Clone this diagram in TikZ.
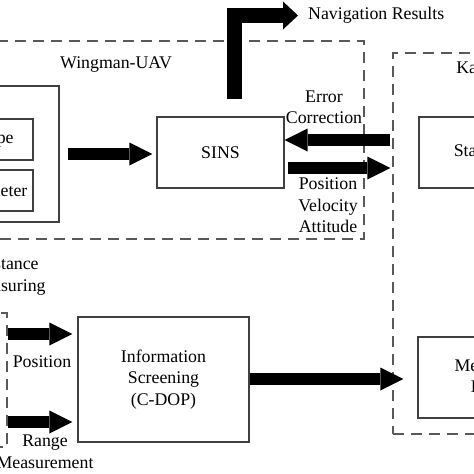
\documentclass[tikz,border=0pt]{standalone}
\usepackage{fontspec}
\setmainfont{Liberation Serif}
\usetikzlibrary{arrows.meta}
\begin{document}
\begin{tikzpicture}[x=1pt,y=-1pt,
  every node/.style={font=\fontsize{17.8}{21.5}\selectfont, text=black},
  box/.style={draw=black!75, line width=1.2pt, inner sep=0pt, align=center},
  dbox/.style={draw=black!65, line width=1.4pt, dash pattern=on 11pt off 7pt, inner sep=0pt},
  lbl/.style={align=center, inner sep=0pt},
  bigarrow/.style={line width=12pt, -{Triangle[length=23pt,width=23pt,line width=0pt]}},
  navarrow/.style={line width=15pt, line join=miter, -{Triangle[length=15pt,width=28pt,line width=0pt]}}]
\fill[white] (0,0) rectangle (474,474);
\useasboundingbox (0,0) rectangle (474,474);
\clip (0,0) rectangle (474,474);

% dashed containers
\node[dbox, minimum width=400pt, minimum height=198pt] (wing) at (164,140) {};
\node[dbox, minimum width=226pt, minimum height=381pt] (kal) at (506,243.5) {};
\node[dbox, minimum width=87pt, minimum height=134pt] (dist) at (-36.5,380) {};

% labels of containers
\node[lbl] (winglbl) at (116,65) {Wingman-UAV};
\node[lbl] (kallbl) at (506,67) {Kalman Filter};
\node[lbl] (distlbl) at (7.5,276.5) {Distance\\Measuring};

% boxes
\node[box, minimum width=154pt, minimum height=136pt] (sens) at (-18,154) {};
\node[box, minimum width=116pt, minimum height=41pt] (gyro) at (-25,139.5) {Gyroscope};
\node[box, minimum width=116pt, minimum height=41pt] (acc) at (-25,190.5) {Accelerometer};
\node[box, minimum width=127pt, minimum height=71pt] (sins) at (220.5,152.5) {SINS};
\node[box, minimum width=174pt, minimum height=71pt] (state) at (506,152.5) {State Equation};
\node[box, minimum width=176pt, minimum height=81pt] (meas) at (506,377.5) {};
\node[lbl] (measlbl) at (503,378) {Measurement\\Equation};
\node[box, minimum width=171pt, minimum height=125pt] (info) at (163.5,379.5) {Information\\Screening\\(C-DOP)};

% navigation output
\node[lbl, anchor=west] (navtxt) at (308,15.5) {Navigation Results};
\draw[navarrow, shorten >=10pt] ([xshift=13.5pt,yshift=17pt]sins.north) |- (navtxt.west);

% arrows
\coordinate (ysens) at (0,154);
\draw[bigarrow, shorten <=8pt, shorten >=4pt] (sens.east |- ysens) -- (sins.west |- ysens);
\coordinate (yerr) at (0,140);
\draw[bigarrow, shorten <=2pt] (kal.west |- yerr) -- (sins.east |- yerr);
\coordinate (ypos) at (0,168);
\draw[bigarrow, shorten <=3pt, shorten >=2pt] (sins.east |- ypos) -- (kal.west |- ypos);
\coordinate (yinf) at (0,379);
\draw[bigarrow, shorten >=-11pt] (info.east |- yinf) -- (kal.west |- yinf);
\coordinate (yp2) at (0,334);
\draw[bigarrow, shorten >=5pt] (dist.east |- yp2) -- (info.west |- yp2);
\coordinate (yr2) at (0,422);
\draw[bigarrow, shorten >=5pt] (dist.east |- yr2) -- (info.west |- yr2);

% arrow labels
\node[lbl] (errlbl) at (324,107.5) {Error\\Correction};
\node[lbl] (pvalbl) at (328,205.5) {Position\\Velocity\\Attitude};
\node[lbl] (poslbl) at (42,362) {Position};
\node[lbl] (rnglbl) at (45,452) {Range\\Measurement};
\end{tikzpicture}
\end{document}
